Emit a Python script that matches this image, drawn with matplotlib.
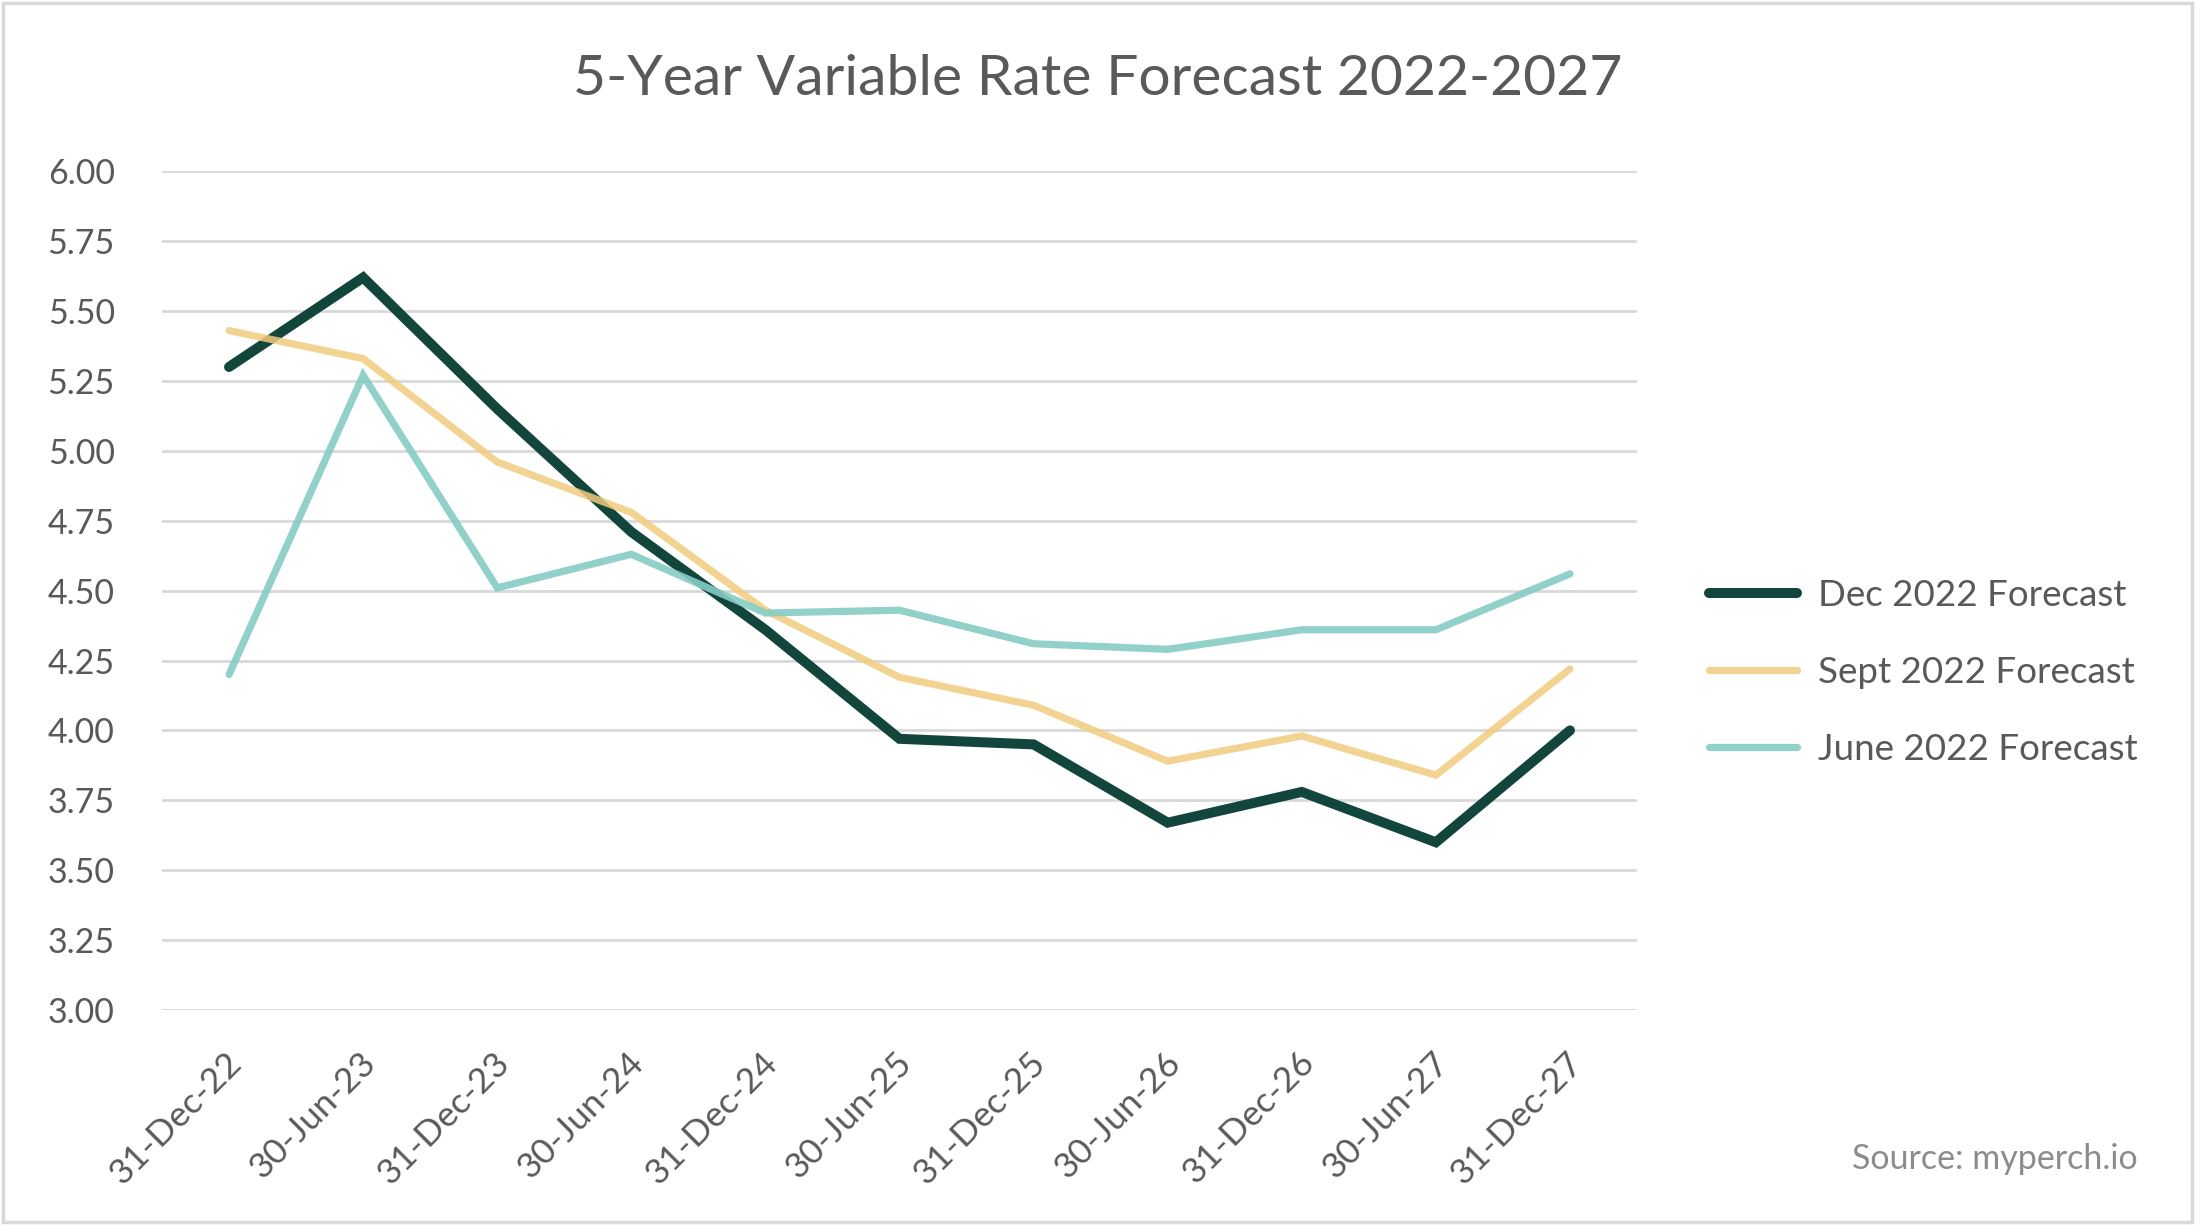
import numpy as np
import matplotlib
matplotlib.use("Agg")
import matplotlib.pyplot as plt
from matplotlib.patches import Rectangle
from matplotlib.transforms import ScaledTranslation

# chart data
dates = ["31-Dec-22", "30-Jun-23", "31-Dec-23", "30-Jun-24", "31-Dec-24", "30-Jun-25",
         "31-Dec-25", "30-Jun-26", "31-Dec-26", "30-Jun-27", "31-Dec-27"]
dec_2022 = [5.30, 5.62, 5.15, 4.71, 4.36, 3.97, 3.95, 3.67, 3.78, 3.60, 4.00]
sept_2022 = [5.43, 5.33, 4.96, 4.78, 4.43, 4.19, 4.09, 3.89, 3.98, 3.84, 4.22]
june_2022 = [4.20, 5.27, 4.51, 4.63, 4.42, 4.43, 4.31, 4.29, 4.36, 4.36, 4.56]
y_ticks = [3.00, 3.25, 3.50, 3.75, 4.00, 4.25, 4.50, 4.75, 5.00, 5.25, 5.50, 5.75, 6.00]

TEXT = "#595959"
plt.rcParams["font.family"] = ["Lato", "DejaVu Sans"]

fig = plt.figure(figsize=(21.95, 12.25), dpi=100)
ax = fig.add_axes([0.0738, 0.1755, 0.672, 0.6847])

x = np.arange(len(dates))
ax.plot(x, dec_2022, color="#12463C", lw=7.2, solid_capstyle="round",
        solid_joinstyle="miter", label="Dec 2022 Forecast", zorder=3)
ax.plot(x, sept_2022, color="#F2CC7E", lw=5.2, alpha=0.85, solid_capstyle="round",
        solid_joinstyle="miter", label="Sept 2022 Forecast", zorder=4)
ax.plot(x, june_2022, color="#86CCC4", lw=5.2, alpha=0.9, solid_capstyle="round",
        solid_joinstyle="miter", label="June 2022 Forecast", zorder=4)

ax.set_xlim(-0.5, len(dates) - 0.5)
ax.set_ylim(3.0, 6.0)
ax.set_yticks(y_ticks)
ax.set_yticklabels([f"{v:.2f}" for v in y_ticks])
ax.set_xticks(x)
ax.set_xticklabels(dates, rotation=45, ha="right", va="top", rotation_mode="anchor")
ax.grid(axis="y", color="#D9D9D9", lw=2)
ax.set_axisbelow(True)
for s in ax.spines.values():
    s.set_visible(False)
ax.tick_params(axis="y", length=0, pad=34, labelsize=24.5, labelcolor=TEXT)
ax.tick_params(axis="x", length=0, pad=26, labelsize=25.5, labelcolor=TEXT)
for lbl in ax.get_xticklabels():
    lbl.set_transform(lbl.get_transform() + ScaledTranslation(-0.04, 0, fig.dpi_scale_trans))

fig.text(0.5, 0.935, "5-Year Variable Rate Forecast 2022-2027", ha="center", va="center",
         fontsize=41, color=TEXT)

leg = fig.legend(loc="center left", bbox_to_anchor=(0.7635, 0.451), frameon=False,
                 fontsize=26.5, labelcolor=TEXT, handlelength=2.4, handletextpad=0.55,
                 labelspacing=1.2)

fig.text(0.974, 0.054, "Source: myperch.io", ha="right", va="center", fontsize=24.5,
         color="#8C8C8C")

# thin grey frame around the whole chart
fig.patches.append(Rectangle((0.0015, 0.0025), 0.997, 0.995, transform=fig.transFigure,
                             fill=False, edgecolor="#D9D9D9", lw=2.5))

fig.savefig("out.png", dpi=100, facecolor="white")
